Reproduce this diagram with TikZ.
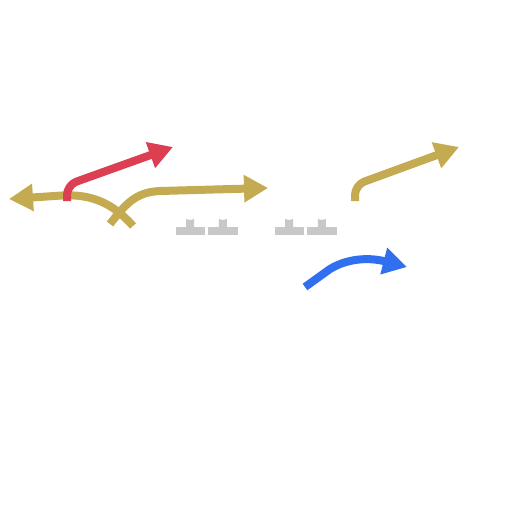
\documentclass[tikz,border=0pt]{standalone}
\usetikzlibrary{arrows.meta}
\definecolor{goldc}{RGB}{196,170,80}
\definecolor{redc}{RGB}{220,62,82}
\definecolor{bluec}{RGB}{48,112,240}
\definecolor{grayc}{RGB}{200,200,200}
\tikzset{
  route/.style={line width=8pt, line cap=butt, -{Triangle[length=24pt,width=26pt]}},
  lineman/.style={fill=grayc, draw=none}
}
\newcommand{\lman}[2]{%
  \fill[lineman] (#1,226.7) rectangle (#1+29.5,235);
  \fill[lineman] (#1+10.5,227) -- (#1+10.5,219) -- (#1+14.5,220) -- (#1+18.5,219) -- (#1+18.5,227) -- cycle;
}
\begin{document}
\begin{tikzpicture}[x=1pt,y=-1pt]
\useasboundingbox (0,0) rectangle (512,512);
\fill[white] (0,0) rectangle (512,512);
% linemen
\lman{175.5}{}
\lman{208.3}{}
\lman{274.5}{}
\lman{307.3}{}
% coordinates
\coordinate (a1) at (133,226);
\coordinate (a1e) at (9,199);
\coordinate (b1) at (110,224);
\coordinate (b1e) at (268,188);
\coordinate (r1) at (67,201);
\coordinate (r1c) at (67,185);
\coordinate (r1e) at (173,147);
\coordinate (g1) at (355,201);
\coordinate (g1c) at (355,185);
\coordinate (g1e) at (459,147);
\coordinate (bl1) at (305,287);
\coordinate (bl1c) at (330,269);
\coordinate (bl1e) at (407,267);
% routes
\draw[route, goldc] (a1) .. controls (112,202) and (90,194) .. (62,195.5) -- (a1e);
\draw[route, goldc] (b1) .. controls (125,205) and (135,192) .. (160,191) -- (b1e);
\draw[route, redc, rounded corners=10pt] (r1) -- (r1c) -- (r1e);
\draw[route, goldc, rounded corners=10pt] (g1) -- (g1c) -- (g1e);
\draw[route, bluec] (bl1) -- (bl1c) .. controls (350,257) and (372,258) .. (bl1e);
\end{tikzpicture}
\end{document}
